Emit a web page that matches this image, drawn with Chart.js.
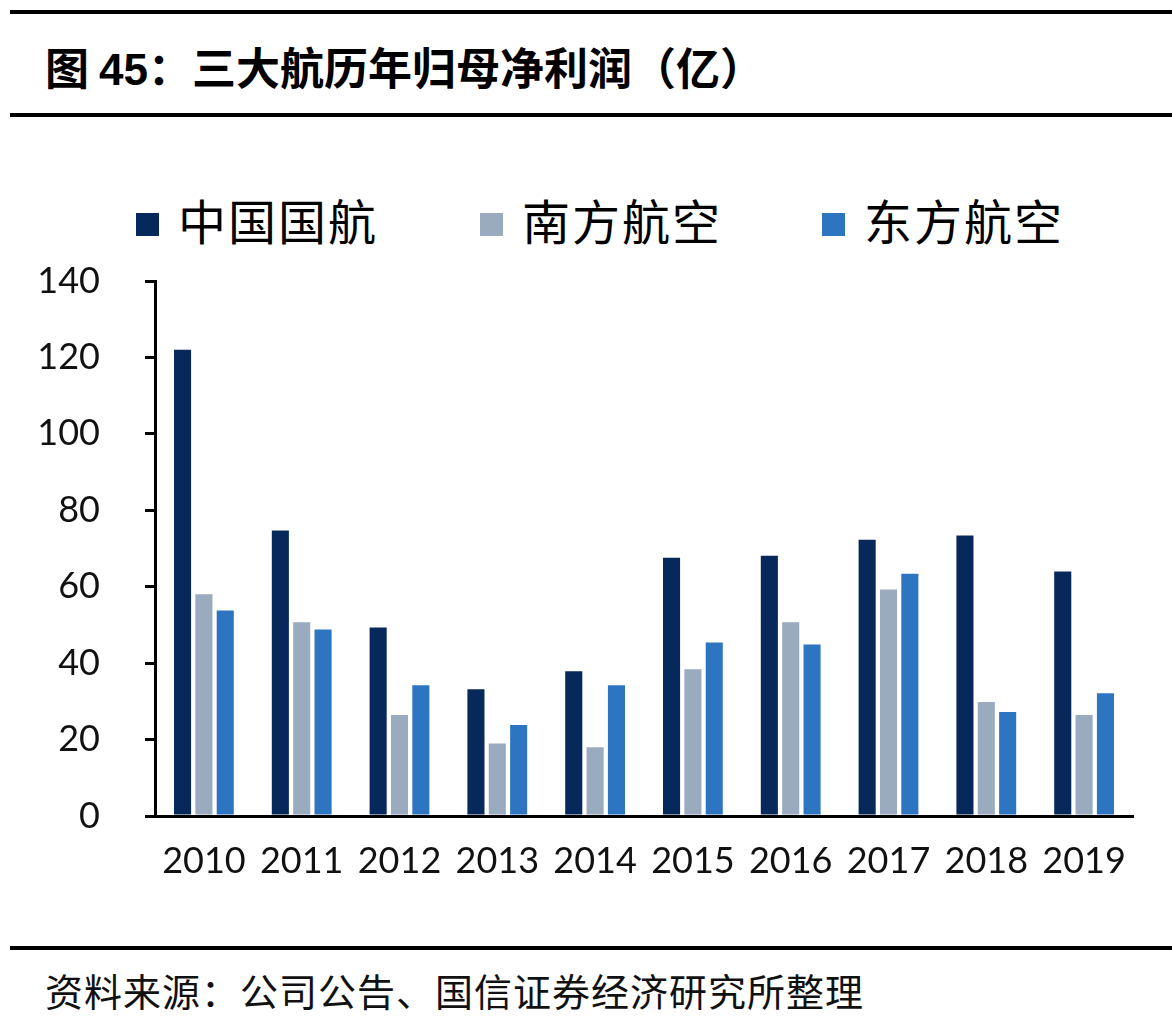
<!DOCTYPE html>
<html>
<head>
<meta charset="utf-8">
<script src="https://cdn.jsdelivr.net/npm/chart.js@4/dist/chart.umd.min.js"></script>
<style>
  html, body { margin: 0; padding: 0; background: #ffffff; }
  body { width: 1172px; height: 1016px; position: relative; overflow: hidden; }
  .rule { position: absolute; left: 10px; right: 0; height: 4px; background: #000; }
  #title { position: absolute; left: 45px; top: 38px; font-family: "Noto Sans CJK SC", sans-serif; font-weight: 700; font-size: 44px; line-height: 56px; color: #000; white-space: nowrap; }
  #title .num { font-family: "Liberation Sans", Arial, sans-serif; font-weight: 700; }
  #footer { position: absolute; left: 45px; top: 965px; font-family: "Noto Sans CJK SC", sans-serif; font-size: 38px; line-height: 50px; color: #111; letter-spacing: 1px; white-space: nowrap; }
  #legend { position: absolute; top: 192px; left: 0; width: 1172px; height: 60px; }
  .li { position: absolute; top: 0; height: 60px; display: flex; align-items: center; }
  .sw { width: 23px; height: 23px; margin-right: 19px; position: relative; top: 2px; }
  .lt { font-family: "Noto Sans CJK SC", sans-serif; font-size: 48px; letter-spacing: 2px; color: #000; line-height: 60px; position: relative; top: -3px; }
  #wrap { position: absolute; left: 0; top: 130px; width: 1172px; height: 800px; }
</style>
</head>
<body>
<div class="rule" style="top:10px"></div>
<div id="title">图 <span class="num">45</span>：三大航历年归母净利润（亿）</div>
<div class="rule" style="top:113px"></div>
<div id="legend"></div>
<div id="wrap"><canvas id="c" width="1172" height="800"></canvas></div>
<div class="rule" style="top:946px"></div>
<div id="footer">资料来源：公司公告、国信证券经济研究所整理</div>
<script>
const years = ["2010","2011","2012","2013","2014","2015","2016","2017","2018","2019"];
const seriesNames = ["中国国航","南方航空","东方航空"];
const airChina = [122.0, 74.7, 49.3, 33.2, 37.9, 67.6, 68.1, 72.3, 73.4, 64.0];
const chinaSouthern = [58.0, 50.7, 26.4, 19.0, 18.0, 38.4, 50.7, 59.3, 29.8, 26.4];
const chinaEastern = [53.8, 48.8, 34.2, 23.8, 34.2, 45.4, 44.9, 63.4, 27.2, 32.1];
const yTicks = [0, 20, 40, 60, 80, 100, 120, 140];
const colors = ["#06285a", "#9aaabf", "#2e75c1"];

// HTML legend
const legendX = [136, 480, 822];
const lg = document.getElementById('legend');
seriesNames.forEach((n, i) => {
  const d = document.createElement('div');
  d.className = 'li';
  d.style.left = legendX[i] + 'px';
  d.innerHTML = '<div class="sw" style="background:' + colors[i] + '"></div><span class="lt">' + n + '</span>';
  lg.appendChild(d);
});

const tickFont = { family: "Lato, 'Open Sans', sans-serif", size: 36 };
new Chart(document.getElementById('c'), {
  type: 'bar',
  data: {
    labels: years,
    datasets: [
      { label: seriesNames[0], data: airChina, backgroundColor: colors[0] },
      { label: seriesNames[1], data: chinaSouthern, backgroundColor: colors[1] },
      { label: seriesNames[2], data: chinaEastern, backgroundColor: colors[2] }
    ]
  },
  options: {
    responsive: false,
    animation: false,
    devicePixelRatio: 1,
    layout: { padding: { top: 151, left: 0, right: 39, bottom: 44 } },
    datasets: { bar: { categoryPercentage: 0.655, barPercentage: 0.8 } },
    plugins: { legend: { display: false }, tooltip: { enabled: false } },
    scales: {
      x: {
        grid: { display: false, drawTicks: false, tickLength: 0 },
        border: { display: true, color: '#000', width: 3 },
        ticks: { color: '#111', font: tickFont, padding: 24, maxRotation: 0 },
        afterFit: (s) => { s.height = 70; }
      },
      y: {
        min: 0, max: 140,
        afterBuildTicks: (s) => { s.ticks = yTicks.map(v => ({ value: v })); },
        grid: { display: true, drawOnChartArea: false, drawTicks: true, tickLength: 10, color: '#000', lineWidth: 3 },
        border: { display: true, color: '#000', width: 3 },
        ticks: { color: '#111', font: tickFont, padding: 45 },
        afterFit: (s) => { s.width = 155; }
      }
    }
  }
});
</script>
</body>
</html>
